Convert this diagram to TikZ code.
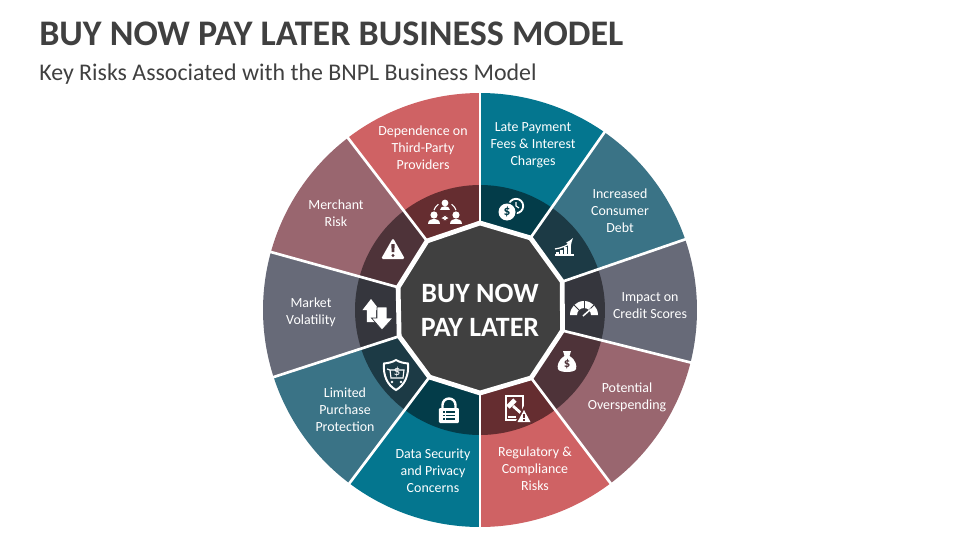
\documentclass[tikz,border=0pt]{standalone}
\usepackage{fontspec}
\setmainfont{Carlito}
\usetikzlibrary{calc}
\definecolor{tealA}{HTML}{04768F}
\definecolor{tealB}{HTML}{3A7386}
\definecolor{greyA}{HTML}{676A78}
\definecolor{roseA}{HTML}{99666F}
\definecolor{redA}{HTML}{CF6264}
\definecolor{tealAd}{HTML}{033C49}
\definecolor{tealBd}{HTML}{1C3A45}
\definecolor{greyAd}{HTML}{35363D}
\definecolor{roseAd}{HTML}{4E3339}
\definecolor{redAd}{HTML}{652D30}
\definecolor{hub}{HTML}{404040}
\tikzset{
  lbl/.style={text=white,align=center,inner sep=0pt,font=\fontsize{9.9}{12.1}\selectfont},
  ico/.style={fill=white,draw=none},
  glyph/.style={text=#1,inner sep=0pt,font=\fontsize{9}{9}\selectfont\bfseries}
}
\begin{document}
\begin{tikzpicture}[x=0.025cm,y=0.025cm]
      \useasboundingbox (-480,-230) rectangle (480,310);
      % title lines
      \node[anchor=base west,inner sep=0pt,text=hub,font=\fontsize{25.6}{30}\selectfont\bfseries] (title) at (-441,264) {BUY NOW PAY LATER BUSINESS MODEL};
      \node[anchor=base west,inner sep=0pt,text=hub,font=\fontsize{17}{20}\selectfont] (subtitle) at (-441,229) {Key Risks Associated with the BNPL Business Model};
      % outer and inner sectors
      \foreach \a/\b/\c in {90/55/tealA,55/19/tealB,19/-14/greyA,-14/-53/roseA,-53/-90/redA,
        -90/-127/tealA,-127/-162/tealB,-162/-195.5/greyA,-195.5/-232.5/roseA,-232.5/-270/redA} {
        \fill[\c] (0,0) -- (\a:217) arc[start angle=\a,end angle=\b,radius=217] -- cycle;
        \fill[\c d] (0,0) -- (\a:125) arc[start angle=\a,end angle=\b,radius=125] -- cycle;
      }
      % spokes
      \foreach \a in {90,55,19,-14,-53,-90,-127,-162,-195.5,-232.5}
        \draw[white,line width=1.9pt] (0,0) -- (\a:219);
      % hub
      \draw[fill=hub,draw=white,line width=3.4pt,line join=miter]
        (90:87) -- (55:88) -- (19:87) -- (-14:85) -- (-53:85) -- (-90:83)
        -- (-127:84) -- (-162:85) -- (-195.5:85) -- (-232.5:87) -- cycle;
      \node[text=white,align=center,inner sep=0pt,font=\fontsize{19.9}{24.2}\selectfont\bfseries] (hubtext) at (0,0) {BUY NOW\\PAY LATER};
      % sector labels
      \node[lbl] (late) at (53,165) {Late Payment\\Fees \& Interest\\Charges};
      \node[lbl] (debt) at (140,99) {Increased\\Consumer\\Debt};
      \node[lbl] (credit) at (170,4) {Impact on\\Credit Scores};
      \node[lbl] (spend) at (147,-87) {Potential\\Overspending};
      \node[lbl] (regul) at (55,-159) {Regulatory \&\\Compliance\\Risks};
      \node[lbl] (secur) at (-47,-161) {Data Security\\and Privacy\\Concerns};
      \node[lbl] (purch) at (-135,-100) {Limited\\Purchase\\Protection};
      \node[lbl] (market) at (-169,-2) {Market\\Volatility};
      \node[lbl] (merch) at (-144,97) {Merchant\\Risk};
      \node[lbl] (third) at (-57,162) {Dependence on\\Third-Party\\Providers};
      % people icon
      \begin{scope}[shift={(-35,98)}]
        \fill[ico] (0,9) circle (3.4);
        \fill[ico] (-5,2) .. controls (-5,7) and (5,7) .. (5,2) -- cycle;
        \draw[white,line width=0.8pt] (-11,2) arc[start angle=160,end angle=125,radius=12];
        \draw[white,line width=0.8pt] (11,2) arc[start angle=20,end angle=55,radius=12];
        \foreach \x in {-11,11} {
          \fill[ico] (\x,-3) circle (3.6);
          \fill[ico] (\x-6,-12) .. controls (\x-6,-5) and (\x+6,-5) .. (\x+6,-12) -- cycle;
        }
        \draw[white,line width=0.5pt,<->,>=stealth] (-3.5,-6) -- (3.5,-6);
      \end{scope}
      % coins icon
      \begin{scope}[shift={(31,100)}]
        \draw[white,line width=1.3pt] (5,4) circle (7.2);
        \draw[white,line width=0.8pt] (5,8) -- (5,4) -- (8,2);
        \fill[tealAd] (-4,-2) circle (10);
        \fill[ico] (-4,-2) circle (8.5);
        \node[glyph=tealAd,font=\fontsize{9.5}{9.5}\selectfont\bfseries] (coin) at (-4,-2) {\$};
      \end{scope}
      % chart icon
      \begin{scope}[shift={(84,63)}]
        \fill[ico] (-9.5,-8.5) rectangle (9.5,-7.3);
        \foreach \x/\h in {-8/2,-4/4,0/6.5,4/9.5}
          \fill[ico] (\x,-6.5) rectangle (\x+3,-6.5+\h);
        \draw[white,line width=0.9pt,-{latex}] (-9,-2) .. controls (-2,-1) and (4,2) .. (9,9);
      \end{scope}
      % gauge icon
      \begin{scope}[shift={(104,1)}]
        \fill[ico] (-14,-6) arc[start angle=180,end angle=0,radius=14] -- (7,-6) arc[start angle=0,end angle=180,radius=7] -- cycle;
        \foreach \a in {45,90,135}
          \draw[greyAd,line width=0.7pt] (\a:6) ++(0,-6) -- ++(\a:10);
        \draw[white,line width=1.1pt] (-1,-7) -- (7,0);
      \end{scope}
      % money bag icon
      \begin{scope}[shift={(87,-52)}]
        \fill[ico] (-4,11) -- (4,11) -- (2.5,6) .. controls (9,2) and (10,-4) .. (9,-7)
          .. controls (8,-11) and (-8,-11) .. (-9,-7) .. controls (-10,-4) and (-9,2) .. (-2.5,6) -- cycle;
        \node[glyph=roseAd] (bag) at (0,-2) {\$};
      \end{scope}
      % gavel icon
      \begin{scope}[shift={(35,-98)}]
        \draw[white,line width=1.2pt] (-9,-12) rectangle (8,12);
        \draw[white,line width=2pt] (-2,2) -- (7,-6);
        \draw[white,line width=3.4pt] (-7,1) -- (0,8);
        \draw[white,line width=0.8pt] (-7,-9) -- (1,-9);
        \fill[redAd] (0,-15) -- (18,-15) -- (9,2) -- cycle;
        \fill[ico] (2.5,-14) -- (15.5,-14) -- (9,-2) -- cycle;
        \fill[redAd] (8.3,-10) rectangle (9.7,-5.5);
        \fill[redAd] (8.3,-12.6) rectangle (9.7,-11);
      \end{scope}
      % lock icon
      \begin{scope}[shift={(-31,-101)}]
        \draw[white,line width=1.7pt] (-6.5,2) -- (-6.5,6) arc[start angle=180,end angle=0,radius=6.5] -- (6.5,2);
        \fill[ico,rounded corners=0.8] (-10,-12) rectangle (10,3);
        \foreach \y in {-1,-4.5,-8} {
          \fill[tealAd] (-6,\y-0.6) rectangle (-4,\y+0.6);
          \fill[tealAd] (-2.5,\y-0.6) rectangle (6,\y+0.6);
        }
      \end{scope}
      % shield icon
      \begin{scope}[shift={(-84,-65)}]
        \draw[fill=tealBd,draw=white,line width=1.4pt] (0,15) .. controls (4,12.5) and (8,12) .. (12,11.5)
          .. controls (13,0) and (9,-10) .. (0,-15) .. controls (-9,-10) and (-13,0) .. (-12,11.5)
          .. controls (-8,12) and (-4,12.5) .. (0,15) -- cycle;
        \draw[white,line width=0.8pt] (-9,6) -- (-6,5) -- (-5,-3) -- (7,-3) -- (8,5) -- (-6,5);
        \fill[ico] (-4,-7) circle (1.4);
        \fill[ico] (5,-7) circle (1.4);
        \node[glyph=white,font=\fontsize{9.5}{9.5}\selectfont] (cart) at (1,3) {\$};
      \end{scope}
      % arrows icon
      \begin{scope}[shift={(-103,-3)}]
        \fill[ico] (-6,14) -- (-14.5,3) -- (-10,3) -- (-10,-9) -- (-1,-9) -- (-1,3) -- (2.5,3) -- cycle;
        \draw[fill=white,draw=greyAd,line width=0.5pt] (5,-17) -- (-5.5,-5) -- (0,-5) -- (0,6) -- (10,6) -- (10,-5) -- (16,-5) -- cycle;
      \end{scope}
      % warning icon
      \begin{scope}[shift={(-87,60)}]
        \fill[ico,rounded corners=1.2] (-12,-9) -- (12,-9) -- (0,12) -- cycle;
        \fill[roseAd] (-1.3,-2) -- (1.3,-2) -- (1.7,6) -- (-1.7,6) -- cycle;
        \fill[roseAd] (0,-5.5) circle (1.7);
      \end{scope}
\end{tikzpicture}
\end{document}
